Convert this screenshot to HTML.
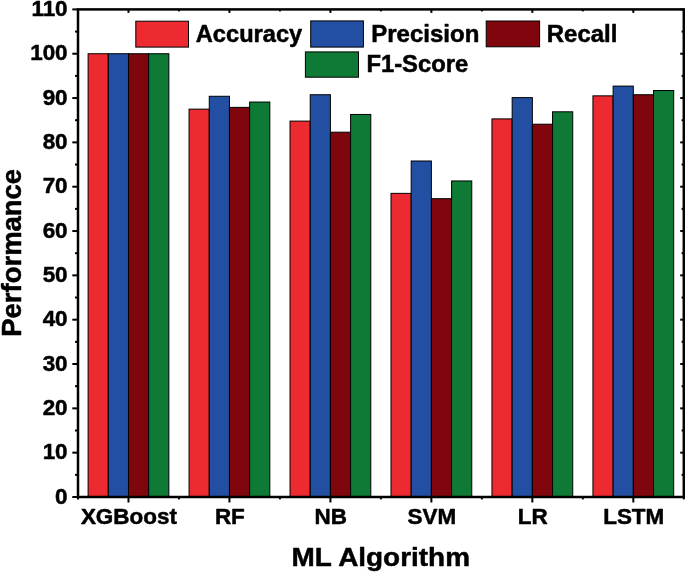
<!DOCTYPE html>
<html><head><meta charset="utf-8"><title>ML Algorithm Performance</title>
<style>html,body{margin:0;padding:0;background:#fff;overflow:hidden}svg{display:block}text{font-family:"Liberation Sans",Arial,Helvetica,sans-serif;font-weight:bold;fill:#000;stroke:#000;stroke-width:0.5px;stroke-linejoin:round}</style></head><body>
<svg width="685" height="572" viewBox="0 0 685 572">
<rect width="685" height="572" fill="#fff"/>
<g stroke="#000" stroke-width="1">
<rect x="88.10" y="53.73" width="20.19" height="443.27" fill="#ED2A2F"/>
<rect x="108.29" y="53.73" width="20.19" height="443.27" fill="#234FA3"/>
<rect x="128.48" y="53.73" width="20.19" height="443.27" fill="#80060D"/>
<rect x="148.68" y="53.73" width="20.19" height="443.27" fill="#0F7A36"/>
<rect x="189.06" y="109.14" width="20.19" height="387.86" fill="#ED2A2F"/>
<rect x="209.26" y="96.28" width="20.19" height="400.72" fill="#234FA3"/>
<rect x="229.45" y="107.36" width="20.19" height="389.64" fill="#80060D"/>
<rect x="249.64" y="102.04" width="20.19" height="394.96" fill="#0F7A36"/>
<rect x="290.03" y="121.10" width="20.19" height="375.90" fill="#ED2A2F"/>
<rect x="310.22" y="94.73" width="20.19" height="402.27" fill="#234FA3"/>
<rect x="330.42" y="132.19" width="20.19" height="364.81" fill="#80060D"/>
<rect x="350.61" y="114.46" width="20.19" height="382.54" fill="#0F7A36"/>
<rect x="391.00" y="193.36" width="20.19" height="303.64" fill="#ED2A2F"/>
<rect x="411.19" y="161.00" width="20.19" height="336.00" fill="#234FA3"/>
<rect x="431.38" y="198.68" width="20.19" height="298.32" fill="#80060D"/>
<rect x="451.58" y="180.95" width="20.19" height="316.05" fill="#0F7A36"/>
<rect x="491.96" y="118.89" width="20.19" height="378.11" fill="#ED2A2F"/>
<rect x="512.16" y="97.61" width="20.19" height="399.39" fill="#234FA3"/>
<rect x="532.35" y="124.21" width="20.19" height="372.79" fill="#80060D"/>
<rect x="552.54" y="111.80" width="20.19" height="385.20" fill="#0F7A36"/>
<rect x="592.93" y="95.84" width="20.19" height="401.16" fill="#ED2A2F"/>
<rect x="613.12" y="86.09" width="20.19" height="410.91" fill="#234FA3"/>
<rect x="633.32" y="94.73" width="20.19" height="402.27" fill="#80060D"/>
<rect x="653.51" y="90.52" width="20.19" height="406.48" fill="#0F7A36"/>
</g>
<g stroke="#000" stroke-width="2" fill="none">
<line x1="72.30" y1="497.00" x2="78.00" y2="497.00"/>
<line x1="680.20" y1="497.00" x2="683.80" y2="497.00"/>
<line x1="75.00" y1="474.84" x2="78.00" y2="474.84"/>
<line x1="681.60" y1="474.84" x2="683.80" y2="474.84"/>
<line x1="72.30" y1="452.67" x2="78.00" y2="452.67"/>
<line x1="680.20" y1="452.67" x2="683.80" y2="452.67"/>
<line x1="75.00" y1="430.51" x2="78.00" y2="430.51"/>
<line x1="681.60" y1="430.51" x2="683.80" y2="430.51"/>
<line x1="72.30" y1="408.35" x2="78.00" y2="408.35"/>
<line x1="680.20" y1="408.35" x2="683.80" y2="408.35"/>
<line x1="75.00" y1="386.18" x2="78.00" y2="386.18"/>
<line x1="681.60" y1="386.18" x2="683.80" y2="386.18"/>
<line x1="72.30" y1="364.02" x2="78.00" y2="364.02"/>
<line x1="680.20" y1="364.02" x2="683.80" y2="364.02"/>
<line x1="75.00" y1="341.85" x2="78.00" y2="341.85"/>
<line x1="681.60" y1="341.85" x2="683.80" y2="341.85"/>
<line x1="72.30" y1="319.69" x2="78.00" y2="319.69"/>
<line x1="680.20" y1="319.69" x2="683.80" y2="319.69"/>
<line x1="75.00" y1="297.53" x2="78.00" y2="297.53"/>
<line x1="681.60" y1="297.53" x2="683.80" y2="297.53"/>
<line x1="72.30" y1="275.36" x2="78.00" y2="275.36"/>
<line x1="680.20" y1="275.36" x2="683.80" y2="275.36"/>
<line x1="75.00" y1="253.20" x2="78.00" y2="253.20"/>
<line x1="681.60" y1="253.20" x2="683.80" y2="253.20"/>
<line x1="72.30" y1="231.04" x2="78.00" y2="231.04"/>
<line x1="680.20" y1="231.04" x2="683.80" y2="231.04"/>
<line x1="75.00" y1="208.87" x2="78.00" y2="208.87"/>
<line x1="681.60" y1="208.87" x2="683.80" y2="208.87"/>
<line x1="72.30" y1="186.71" x2="78.00" y2="186.71"/>
<line x1="680.20" y1="186.71" x2="683.80" y2="186.71"/>
<line x1="75.00" y1="164.55" x2="78.00" y2="164.55"/>
<line x1="681.60" y1="164.55" x2="683.80" y2="164.55"/>
<line x1="72.30" y1="142.38" x2="78.00" y2="142.38"/>
<line x1="680.20" y1="142.38" x2="683.80" y2="142.38"/>
<line x1="75.00" y1="120.22" x2="78.00" y2="120.22"/>
<line x1="681.60" y1="120.22" x2="683.80" y2="120.22"/>
<line x1="72.30" y1="98.05" x2="78.00" y2="98.05"/>
<line x1="680.20" y1="98.05" x2="683.80" y2="98.05"/>
<line x1="75.00" y1="75.89" x2="78.00" y2="75.89"/>
<line x1="681.60" y1="75.89" x2="683.80" y2="75.89"/>
<line x1="72.30" y1="53.73" x2="78.00" y2="53.73"/>
<line x1="680.20" y1="53.73" x2="683.80" y2="53.73"/>
<line x1="75.00" y1="31.56" x2="78.00" y2="31.56"/>
<line x1="681.60" y1="31.56" x2="683.80" y2="31.56"/>
<line x1="72.30" y1="9.40" x2="78.00" y2="9.40"/>
<line x1="680.20" y1="9.40" x2="683.80" y2="9.40"/>
<line x1="78.00" y1="497.00" x2="78.00" y2="499.40"/>
<line x1="78.00" y1="9.40" x2="78.00" y2="11.40"/>
<line x1="128.48" y1="497.00" x2="128.48" y2="502.50"/>
<line x1="128.48" y1="9.40" x2="128.48" y2="12.90"/>
<line x1="178.97" y1="497.00" x2="178.97" y2="499.40"/>
<line x1="178.97" y1="9.40" x2="178.97" y2="11.40"/>
<line x1="229.45" y1="497.00" x2="229.45" y2="502.50"/>
<line x1="229.45" y1="9.40" x2="229.45" y2="12.90"/>
<line x1="279.93" y1="497.00" x2="279.93" y2="499.40"/>
<line x1="279.93" y1="9.40" x2="279.93" y2="11.40"/>
<line x1="330.42" y1="497.00" x2="330.42" y2="502.50"/>
<line x1="330.42" y1="9.40" x2="330.42" y2="12.90"/>
<line x1="380.90" y1="497.00" x2="380.90" y2="499.40"/>
<line x1="380.90" y1="9.40" x2="380.90" y2="11.40"/>
<line x1="431.38" y1="497.00" x2="431.38" y2="502.50"/>
<line x1="431.38" y1="9.40" x2="431.38" y2="12.90"/>
<line x1="481.87" y1="497.00" x2="481.87" y2="499.40"/>
<line x1="481.87" y1="9.40" x2="481.87" y2="11.40"/>
<line x1="532.35" y1="497.00" x2="532.35" y2="502.50"/>
<line x1="532.35" y1="9.40" x2="532.35" y2="12.90"/>
<line x1="582.83" y1="497.00" x2="582.83" y2="499.40"/>
<line x1="582.83" y1="9.40" x2="582.83" y2="11.40"/>
<line x1="633.32" y1="497.00" x2="633.32" y2="502.50"/>
<line x1="633.32" y1="9.40" x2="633.32" y2="12.90"/>
<line x1="683.80" y1="497.00" x2="683.80" y2="499.40"/>
<line x1="683.80" y1="9.40" x2="683.80" y2="11.40"/>
</g>
<rect x="78.00" y="9.40" width="605.80" height="487.60" fill="none" stroke="#000" stroke-width="2.5"/>
<text transform="translate(67.6,503.70) scale(1.02,1)" font-size="22" text-anchor="end">0</text>
<text transform="translate(67.6,459.37) scale(1.02,1)" font-size="22" text-anchor="end">10</text>
<text transform="translate(67.6,415.05) scale(1.02,1)" font-size="22" text-anchor="end">20</text>
<text transform="translate(67.6,370.72) scale(1.02,1)" font-size="22" text-anchor="end">30</text>
<text transform="translate(67.6,326.39) scale(1.02,1)" font-size="22" text-anchor="end">40</text>
<text transform="translate(67.6,282.06) scale(1.02,1)" font-size="22" text-anchor="end">50</text>
<text transform="translate(67.6,237.74) scale(1.02,1)" font-size="22" text-anchor="end">60</text>
<text transform="translate(67.6,193.41) scale(1.02,1)" font-size="22" text-anchor="end">70</text>
<text transform="translate(67.6,149.08) scale(1.02,1)" font-size="22" text-anchor="end">80</text>
<text transform="translate(67.6,104.75) scale(1.02,1)" font-size="22" text-anchor="end">90</text>
<text transform="translate(67.6,60.43) scale(1.02,1)" font-size="22" text-anchor="end">100</text>
<text transform="translate(67.6,16.10) scale(1.02,1)" font-size="22" text-anchor="end">110</text>
<text transform="translate(128.88,524.4) scale(1.02,1)" font-size="22" text-anchor="middle">XGBoost</text>
<text transform="translate(229.85,524.4) scale(1.02,1)" font-size="22" text-anchor="middle">RF</text>
<text transform="translate(330.82,524.4) scale(1.02,1)" font-size="22" text-anchor="middle">NB</text>
<text transform="translate(431.78,524.4) scale(1.02,1)" font-size="22" text-anchor="middle">SVM</text>
<text transform="translate(532.75,524.4) scale(1.02,1)" font-size="22" text-anchor="middle">LR</text>
<text transform="translate(633.72,524.4) scale(1.02,1)" font-size="22" text-anchor="middle">LSTM</text>
<text transform="translate(380.8,566.2) scale(1.05,1)" font-size="26.6" text-anchor="middle">ML Algorithm</text>
<text transform="translate(20.9,252.8) rotate(-90) scale(1.025,1)" font-size="26.8" text-anchor="middle">Performance</text>
<rect x="135.80" y="21.20" width="52.70" height="25.90" fill="#ED2A2F" stroke="#000" stroke-width="1"/>
<text transform="translate(195.80,41.50) scale(1.028,1)" font-size="23" text-anchor="start">Accuracy</text>
<rect x="310.70" y="20.90" width="52.70" height="26.20" fill="#234FA3" stroke="#000" stroke-width="1"/>
<text transform="translate(371.20,41.50) scale(1.045,1)" font-size="23" text-anchor="start">Precision</text>
<rect x="486.20" y="21.00" width="53.40" height="25.80" fill="#80060D" stroke="#000" stroke-width="1"/>
<text transform="translate(546.80,41.50) scale(1.042,1)" font-size="23" text-anchor="start">Recall</text>
<rect x="305.40" y="51.90" width="53.10" height="25.30" fill="#0F7A36" stroke="#000" stroke-width="1"/>
<text transform="translate(366.40,71.70) scale(1.036,1)" font-size="23" text-anchor="start">F1-Score</text>
</svg></body></html>
